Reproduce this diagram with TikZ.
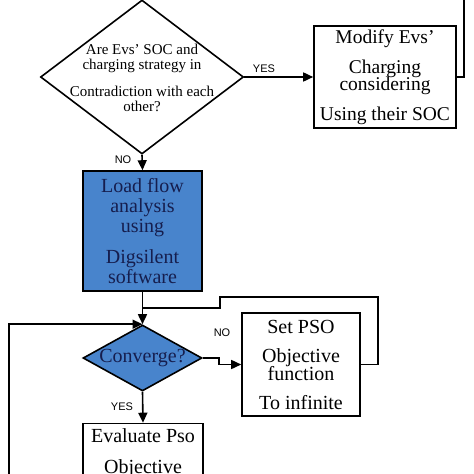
\documentclass[tikz,border=0pt]{standalone}
\usepackage{fontspec}
\setmainfont{Liberation Serif}
\newfontfamily\lblfont{Liberation Sans}
\usetikzlibrary{arrows.meta,shapes.geometric}
\definecolor{boxblue}{RGB}{72,132,204}
\definecolor{navytext}{RGB}{22,30,78}
\newcommand{\tightfont}[2]{\fontsize{#1}{#2}\selectfont\lineskiplimit=-50pt\relax}
\tikzset{
  line/.style={line width=1.6pt, black},
  arr/.style={line, -{Triangle[length=10pt,width=9pt]}},
  plainbox/.style={draw, line width=1.6pt, fill=white, inner sep=0pt, align=center},
  bluebox/.style={draw, line width=1.6pt, fill=boxblue, text=navytext, inner sep=0pt, align=center},
  decision/.style={diamond, draw, line width=1.6pt, inner sep=0pt},
  lbl/.style={font=\lblfont\fontsize{11}{12}\selectfont, inner sep=0pt}
}
\begin{document}
\begin{tikzpicture}[x=1pt,y=-1pt]
\useasboundingbox (0,0) rectangle (474,474);
\clip (0,0) rectangle (474,474);
% decision 1
\node[decision, fill=white, minimum width=203pt, minimum height=154pt] (d1) at (142,77) {};
\node[align=center, inner sep=0pt, font=\tightfont{15}{15}] (d1t) at (142,77.5)
  {Are Evs’ SOC and\\charging strategy in\\[12pt]Contradiction with each\\other?};
% modify box
\node[plainbox, minimum width=142pt, minimum height=102pt, font=\tightfont{19.5}{17.5}] (mod) at (385,77)
  {Modify Evs’\\[12pt]Charging\\considering\\[12pt]Using their SOC};
% load flow
\node[bluebox, minimum width=119pt, minimum height=120pt, font=\tightfont{20}{20}] (lf) at (142.5,231)
  {Load flow\\analysis\\using\\[11pt]Digsilent\\software};
% converge
\node[decision, fill=boxblue, text=navytext, minimum width=119pt, minimum height=66pt] (conv) at (142.5,358) {};
\node[inner sep=0pt, text=navytext, font=\tightfont{20}{20}] (convt) at (142.5,358) {Converge?};
% set pso
\node[plainbox, minimum width=118pt, minimum height=103pt, font=\tightfont{20}{18}] (set) at (301,364.5)
  {Set PSO\\[11pt]Objective\\function\\[11pt]To infinite};
% evaluate
\node[plainbox, minimum width=120pt, minimum height=59pt, font=\tightfont{20}{20}] (eval) at (143,453)
  {Evaluate Pso\\[11pt]Objective};
% coordinates
\coordinate (topend) at (464,-5);
\coordinate (botend) at (9,480);
% connectors
\draw[arr] (d1.south) -- (lf.north);
\node[lbl] (lno1) at (123,160) {NO};
\draw[arr] (d1.east) -- (mod.west);
\node[lbl] (lyes1) at (264,69) {YES};
\draw[line] (mod.east) -| (topend);
\draw[arr] (lf.south) -- (conv.north);
\draw[line] (set.east) -- (378,364.5) |- (220,297) |- (142.5,308);
\draw[arr] (botend) |- (conv.north);
\draw[arr] (conv.east) -- (219,358) |- (set.west);
\node[lbl] (lno2) at (222,333) {NO};
\draw[arr] (conv.south) -- (eval.north);
\node[lbl] (lyes2) at (122,407) {YES};
\end{tikzpicture}
\end{document}
